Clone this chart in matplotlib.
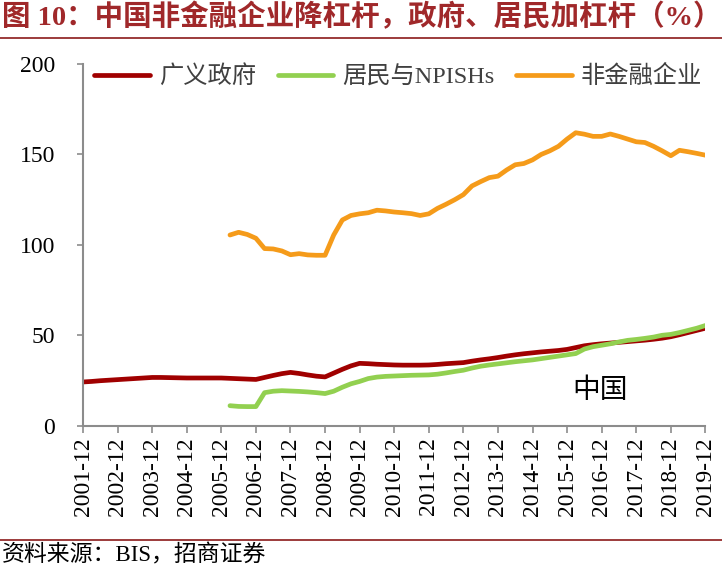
import numpy as np
import matplotlib
matplotlib.use("Agg")
import matplotlib.pyplot as plt

plt.rcParams['font.family'] = ['Liberation Serif', 'Noto Sans CJK SC']

# quarterly points, 2001-12 ... 2019-12 (73 quarters)
n_q = 73
year_labels = [f"{y}-12" for y in range(2001, 2020)]

nan = np.nan
# 广义政府
gov = [24.3, 24.6, 25.0, 25.3, 25.6, 25.9, 26.2, 26.5, 26.8, 26.8,
       26.7, 26.6, 26.5, 26.5, 26.5, 26.5, 26.5, 26.3, 26.1, 25.9,
       25.7, 26.8, 27.9, 28.9, 29.6, 29.0, 28.2, 27.5, 27.1, 29.2,
       31.3, 33.2, 34.6, 34.4, 34.1, 33.9, 33.7, 33.6, 33.6, 33.6,
       33.7, 34.0, 34.4, 34.7, 35.0, 35.8, 36.5, 37.1, 37.8, 38.6,
       39.3, 39.9, 40.4, 40.9, 41.3, 41.7, 42.3, 43.3, 44.3, 44.9,
       45.4, 45.8, 46.2, 46.6, 47.0, 47.4, 47.9, 48.5, 49.3, 50.4,
       51.6, 52.8, 54.0]
# 居民与NPISHs
hh = [nan] * 17 + [
       11.2, 10.8, 10.7, 10.7, 18.4, 19.2, 19.5, 19.3, 19.1, 18.8,
       18.4, 17.9, 19.2, 21.4, 23.3, 24.6, 26.2, 27.0, 27.4, 27.6,
       27.8, 28.0, 28.1, 28.2, 28.6, 29.3, 30.1, 30.8, 32.0, 33.0,
       33.7, 34.3, 34.9, 35.5, 36.0, 36.5, 37.2, 37.9, 38.6, 39.3,
       40.0, 42.5, 43.8, 44.6, 45.4, 46.4, 47.3, 47.8, 48.4, 49.1,
       50.1, 50.6, 51.6, 52.8, 54.0, 55.5]
# 非金融企业
corp = [nan] * 17 + [
       105.5, 107.0, 105.8, 103.7, 98.0, 97.8, 96.7, 94.6, 95.2, 94.5,
       94.3, 94.3, 105.5, 113.8, 116.3, 117.2, 117.8, 119.2, 118.8, 118.2,
       117.8, 117.3, 116.3, 117.2, 120.2, 122.5, 125.0, 127.8, 132.6, 135.0,
       137.2, 138.0, 141.4, 144.3, 145.0, 147.0, 150.0, 152.0, 154.5, 158.5,
       162.0, 161.2, 160.0, 160.0, 161.3, 160.0, 158.5, 157.0, 156.6, 154.5,
       152.0, 149.3, 152.3, 151.5, 150.6, 149.6]

x = np.arange(n_q)

fig = plt.figure(figsize=(7.22, 5.71), dpi=100)
ax = fig.add_axes([0.115, 0.254, 0.862, 0.634])

ax.plot(x, gov, color='#A00000', lw=3.4, label='广义政府', solid_capstyle='round')
ax.plot(x, hh, color='#92D050', lw=3.4, label='居民与NPISHs', solid_capstyle='round')
ax.plot(x, corp, color='#F59B1A', lw=3.4, label='非金融企业', solid_capstyle='round')

ax.set_xlim(0, 72)
ax.set_ylim(0, 200)
ax.set_yticks([0, 50, 100, 150, 200])
ax.set_xticks(np.arange(0, 73, 4))
ax.set_xticklabels(year_labels, rotation=90)

for s in ['top', 'right']:
    ax.spines[s].set_visible(False)
for s in ['left', 'bottom']:
    ax.spines[s].set_color('#8C8C8C')
    ax.spines[s].set_linewidth(1.5)
ax.tick_params(axis='y', length=4, width=1.2, color='#8C8C8C', pad=16, labelsize=17)
ax.tick_params(axis='x', length=5, width=1.2, color='#8C8C8C', pad=3, labelsize=17)

leg = ax.legend(loc='center left', bbox_to_anchor=(0.018, 0.965), ncol=3, frameon=False,
                fontsize=17.5, handlelength=2.3, handletextpad=0.35, columnspacing=0.9,
                borderaxespad=0, borderpad=0)
for t in leg.get_texts():
    t.set_color('#404040')

ax.text(56.6, 20, '中国', fontsize=20, family=['Noto Sans CJK SC'], va='center', ha='left')

fig.text(0.003, 0.97, '图 10：中国非金融企业降杠杆，政府、居民加杠杆（%）', fontsize=20.5,
         color='#A0282A', fontweight='bold', va='center', ha='left')
fig.add_artist(plt.Line2D([0, 1], [0.934, 0.934], color='#8B1A1A', lw=1.2))
fig.add_artist(plt.Line2D([0, 1], [0.054, 0.054], color='#8B1A1A', lw=1.2))
fig.text(0.003, 0.027, '资料来源：BIS，招商证券', fontsize=16.5, color='black',
         va='center', ha='left')

fig.savefig('out.png', dpi=100)
